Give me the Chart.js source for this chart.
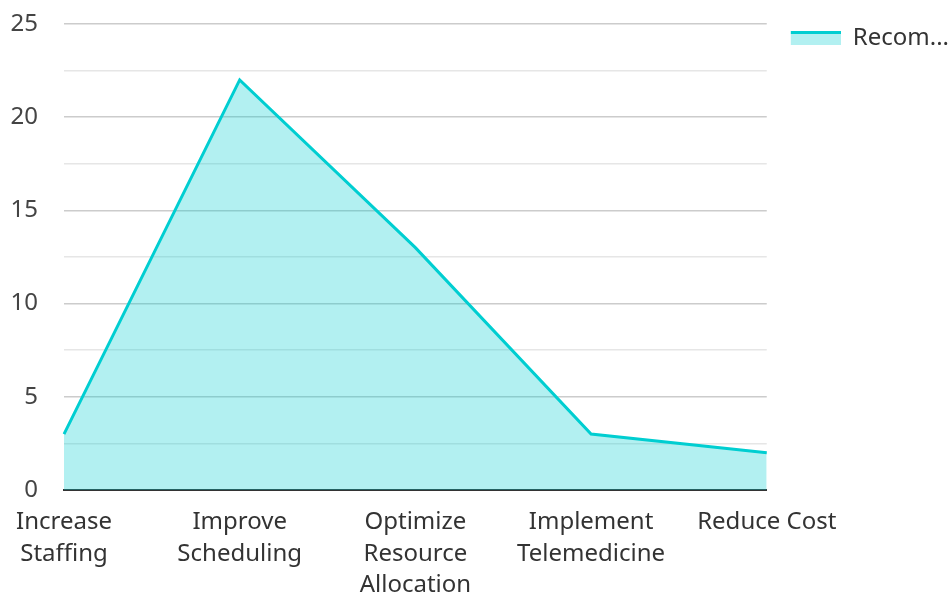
<!DOCTYPE html>
<html>
<head>
<meta charset="utf-8">
<script src="https://cdn.jsdelivr.net/npm/chart.js@4"></script>
<style>
  html, body { margin: 0; padding: 0; background: #fff; }
  #wrap { width: 952px; height: 594px; }
</style>
</head>
<body>
<div id="wrap"><canvas id="myChart"></canvas></div>
<script>
// data
const categories = [["Increase", "Staffing"], ["Improve", "Scheduling"], ["Optimize", "Resource", "Allocation"], ["Implement", "Telemedicine"], "Reduce Cost"];
const counts = [3, 22, 13, 3, 2];
const seriesName = "Recommendations";

const lineColor = "#00CED1";
const fillColor = "rgba(0, 206, 209, 0.3)";

// legend swatch: thick line on top, pale fill under it (left 14px kept empty as spacing)
const swatch = document.createElement("canvas");
swatch.width = 64; swatch.height = 14;
const sctx = swatch.getContext("2d");
sctx.fillStyle = fillColor;
sctx.fillRect(14, 2, 50, 12);
sctx.fillStyle = lineColor;
sctx.fillRect(14, 0, 50, 3);

Chart.defaults.font.family = "'Noto Sans', sans-serif";
Chart.defaults.color = "#444";

var ctx = document.getElementById('myChart').getContext('2d');
var myChart = new Chart(ctx, {
  type: 'line',
  data: {
    labels: categories,
    datasets: [{
      label: seriesName,
      data: counts,
      borderColor: lineColor,
      backgroundColor: fillColor,
      borderWidth: 3,
      fill: 'origin',
      tension: 0,
      pointRadius: 0,
      pointHoverRadius: 0
    }]
  },
  options: {
    responsive: true,
    maintainAspectRatio: false,
    animation: false,
    layout: { padding: { top: 16, right: -7, left: 10, bottom: 0 } },
    plugins: {
      tooltip: { enabled: false },
      legend: {
        position: 'right',
        align: 'start',
        labels: {
          usePointStyle: true,
          pointStyleWidth: 64,
          font: { size: 24 },
          color: "#333",
          padding: 10,
          generateLabels: function (chart) {
            return chart.data.datasets.map(function (ds, i) {
              return {
                text: ds.label.slice(0, 5) + "...",
                pointStyle: swatch,
                fontColor: "#333",
                datasetIndex: i,
                hidden: false,
                lineWidth: 0
              };
            });
          }
        }
      }
    },
    scales: {
      x: {
        offset: false,
        grid: { display: false },
        border: { display: true, color: "#333", width: 2 },
        ticks: { font: { size: 24, lineHeight: 1.3 }, color: "#333", padding: 9, maxRotation: 0, autoSkip: false },
        afterFit: function (s) { s.height = 104; s.paddingLeft = 0; s.paddingRight = 0; }
      },
      y: {
        min: 0,
        max: 25,
        border: { display: false },
        grid: {
          drawTicks: false,
          color: function (c) { return c.tick && c.tick.value % 5 === 0 ? "#cccccc" : "#e6e6e6"; },
          lineWidth: 1.5
        },
        ticks: {
          stepSize: 2.5,
          padding: 26,
          font: { size: 24 },
          color: "#444",
          callback: function (v) { return v % 5 === 0 ? v : ""; }
        },
        afterFit: function (s) { s.width = 54; s.paddingTop = 24; s.paddingBottom = 0; }
      }
    }
  }
});
</script>
</body>
</html>
